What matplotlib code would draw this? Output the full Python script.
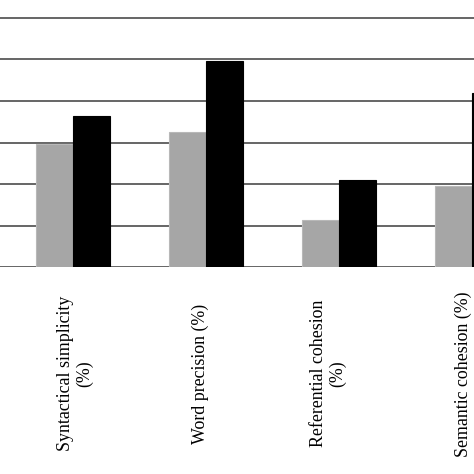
import matplotlib
matplotlib.use('Agg')
import matplotlib.pyplot as plt
import matplotlib.transforms as mtransforms
import numpy as np

# Data
categories = ['Syntactical simplicity\n(%)', 'Word precision (%)',
              'Referential cohesion\n(%)', 'Semantic cohesion (%)']
series_a = [29.6, 32.5, 11.4, 19.5]   # gray bars
series_b = [36.5, 49.6, 21.0, 41.9]   # black bars
grid_ticks = [0, 10, 20, 30, 40, 50, 60]

plt.rcParams['font.family'] = ['Liberation Serif', 'DejaVu Serif']

fig = plt.figure(figsize=(4.74, 4.74), dpi=100)
ax = fig.add_axes([0, 207 / 474, 1, 267 / 474])

x = np.arange(len(categories))
w = 0.278
ax.bar(x - w / 2, series_a, width=w, color='#a6a6a6', edgecolor='#b8b8b8',
       linewidth=0.8, zorder=3)
ax.bar(x + w / 2, series_b, width=w, color='black', edgecolor='black',
       linewidth=0.8, zorder=3)

ax.set_xlim(-73 / 133, -73 / 133 + 474 / 133)
ax.set_ylim(0, 267 / 41.5 * 10)
ax.set_yticks(grid_ticks)
ax.yaxis.grid(True, color='#595959', linewidth=1.3, zorder=0)
ax.set_axisbelow(True)
ax.tick_params(axis='y', left=False, labelleft=False)
ax.set_xticks([])

# category labels, centred vertically below the plot (small nudges as in the original)
nudge_px = [2, -6, -11, -9]
trans = ax.get_xaxis_transform()
for xi, lab, dx in zip(x, categories, nudge_px):
    t = trans + mtransforms.ScaledTranslation(dx / 100, 0, fig.dpi_scale_trans)
    ax.text(xi, -0.4, lab, transform=t, rotation=90, fontsize=12.9,
            ha='center', va='center', multialignment='center',
            linespacing=1.2, clip_on=False)

for s in ax.spines.values():
    s.set_visible(False)

plt.savefig('out.png', dpi=100)
